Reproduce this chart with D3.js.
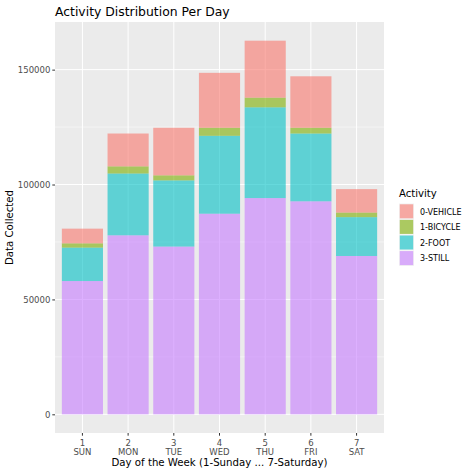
<!DOCTYPE html>
<html>
<head>
<meta charset="utf-8">
<script src="https://cdn.jsdelivr.net/npm/d3@7"></script>
<style>
  body { margin: 0; background: #fff; }
  text { font-family: "DejaVu Sans", sans-serif; }
</style>
</head>
<body>
<script>
// values
const days = ["1", "2", "3", "4", "5", "6", "7"];
const dayNames = ["SUN", "MON", "TUE", "WED", "THU", "FRI", "SAT"];
const activities = ["0-VEHICLE", "1-BICYCLE", "2-FOOT", "3-STILL"];
const vehicle = [6400, 14300, 20700, 23900, 24800, 22400, 10200];
const bicycle = [1850, 3100, 2200, 3500, 4200, 2500, 2000];
const foot = [14550, 26900, 28800, 33900, 39500, 29500, 16900];
const still = [58000, 77900, 73000, 87300, 94100, 92700, 68900];
const yTicks = [0, 50000, 100000, 150000];
const colors = ["#F8766D", "#7CAE00", "#00BFC4", "#C77CFF"];

const width = 474, height = 474;
const panel = { left: 55, right: 384, top: 22, bottom: 433 };

const svg = d3.select("body").append("svg")
    .attr("width", width)
    .attr("height", height);

// build stack table, still at bottom, vehicle on top
const rows = days.map((d, i) => ({
    day: d,
    "0-VEHICLE": vehicle[i],
    "1-BICYCLE": bicycle[i],
    "2-FOOT": foot[i],
    "3-STILL": still[i]
}));
const stackOrder = activities.slice().reverse();
const series = d3.stack().keys(stackOrder)(rows);

const maxTotal = d3.max(series[series.length - 1], d => d[1]);
const pad = maxTotal * 0.05;

const x = d3.scaleBand()
    .domain(days)
    .range([panel.left, panel.right])
    .paddingInner(0.1)
    .paddingOuter(0.15);

const y = d3.scaleLinear()
    .domain([-pad, maxTotal + pad])
    .range([panel.bottom, panel.top]);

const color = d3.scaleOrdinal().domain(activities).range(colors);

// panel background
svg.append("rect")
    .attr("x", panel.left)
    .attr("y", panel.top)
    .attr("width", panel.right - panel.left)
    .attr("height", panel.bottom - panel.top)
    .attr("fill", "#EBEBEB");

// minor grid
const minor = [25000, 75000, 125000];
svg.append("g").selectAll("line")
    .data(minor)
    .join("line")
    .attr("x1", panel.left).attr("x2", panel.right)
    .attr("y1", d => y(d)).attr("y2", d => y(d))
    .attr("stroke", "#fff").attr("stroke-width", 0.5);

// major grid
svg.append("g").selectAll("line")
    .data(yTicks)
    .join("line")
    .attr("x1", panel.left).attr("x2", panel.right)
    .attr("y1", d => y(d)).attr("y2", d => y(d))
    .attr("stroke", "#fff").attr("stroke-width", 1);

svg.append("g").selectAll("line")
    .data(days)
    .join("line")
    .attr("x1", d => x(d) + x.bandwidth() / 2)
    .attr("x2", d => x(d) + x.bandwidth() / 2)
    .attr("y1", panel.top).attr("y2", panel.bottom)
    .attr("stroke", "#fff").attr("stroke-width", 1);

// bars
svg.append("g").selectAll("g")
    .data(series)
    .join("g")
    .attr("fill", s => color(s.key))
    .attr("fill-opacity", 0.6)
    .selectAll("rect")
    .data(s => s)
    .join("rect")
    .attr("x", d => x(d.data.day))
    .attr("width", x.bandwidth())
    .attr("y", d => y(d[1]))
    .attr("height", d => y(d[0]) - y(d[1]));

// y axis
const yAxis = svg.append("g")
    .attr("transform", `translate(${panel.left},0)`)
    .call(d3.axisLeft(y).tickValues(yTicks).tickSize(2.7).tickPadding(2).tickFormat(d3.format("d")));
yAxis.select(".domain").remove();
yAxis.selectAll(".tick line").attr("stroke", "#333");
yAxis.selectAll(".tick text").attr("fill", "#4D4D4D").style("font-size", "8.5px");

// x axis
const xAxis = svg.append("g")
    .attr("transform", `translate(0,${panel.bottom})`)
    .call(d3.axisBottom(x).tickSize(2.7).tickPadding(2));
xAxis.select(".domain").remove();
xAxis.selectAll(".tick line").attr("stroke", "#333");
xAxis.selectAll(".tick text")
    .attr("fill", "#4D4D4D")
    .attr("dy", null)
    .attr("y", null)
    .style("font-size", "8.5px")
    .text(null)
    .each(function(d, i) {
        const t = d3.select(this);
        t.append("tspan").attr("x", 0).attr("y", 13.3).text(d);
        t.append("tspan").attr("x", 0).attr("y", 21.9).text(dayNames[i]);
    });

// titles
svg.append("text")
    .attr("x", panel.left)
    .attr("y", 16)
    .attr("fill", "#000")
    .style("font-size", "12.4px")
    .text("Activity Distribution Per Day");

svg.append("text")
    .attr("x", (panel.left + panel.right) / 2)
    .attr("y", 466)
    .attr("text-anchor", "middle")
    .style("font-size", "10.2px")
    .text("Day of the Week (1-Sunday ... 7-Saturday)");

svg.append("text")
    .attr("transform", `translate(13,${(panel.top + panel.bottom) / 2}) rotate(-90)`)
    .attr("text-anchor", "middle")
    .style("font-size", "10.2px")
    .text("Data Collected");

// legend
const legend = svg.append("g").attr("transform", "translate(399,0)");
legend.append("text")
    .attr("x", 0)
    .attr("y", 197)
    .style("font-size", "10.1px")
    .text("Activity");

const keys = legend.selectAll("g.key")
    .data(activities)
    .join("g")
    .attr("class", "key")
    .attr("transform", (d, i) => `translate(0,${203.5 + i * 15.6})`);
keys.append("rect")
    .attr("width", 15).attr("height", 15.6)
    .attr("fill", "#F2F2F2");
keys.append("rect")
    .attr("x", 0.8).attr("y", 0.8)
    .attr("width", 13.4).attr("height", 14)
    .attr("fill", d => color(d))
    .attr("fill-opacity", 0.6);
keys.append("text")
    .attr("x", 21)
    .attr("y", 11)
    .style("font-size", "8px")
    .attr("fill", "#000")
    .text(d => d);
</script>
</body>
</html>
